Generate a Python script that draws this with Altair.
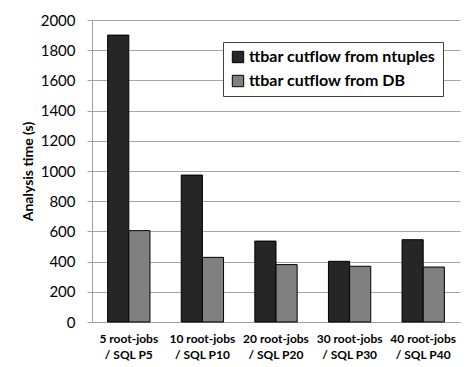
import altair as alt
import pandas as pd

categories = ["5 root-jobs\n/ SQL P5", "10 root-jobs\n/ SQL P10", "20 root-jobs\n/ SQL P20",
              "30 root-jobs\n/  SQL P30", "40 root-jobs\n/  SQL P40"]
series = ["ttbar cutflow from ntuples", "ttbar cutflow from DB"]
ntuples = [1900, 973, 536, 402, 545]
db = [605, 428, 380, 369, 364]
colors = ["#262626", "#808080"]

rows = []
for c, a, b in zip(categories, ntuples, db):
    rows.append({"cat": c, "series": series[0], "value": a})
    rows.append({"cat": c, "series": series[1], "value": b})
df = pd.DataFrame(rows)

chart = alt.Chart(df).mark_bar(stroke="black", strokeWidth=1).encode(
    x=alt.X("cat:N", sort=categories, title=None,
            scale=alt.Scale(paddingInner=0.425, paddingOuter=0.2125),
            axis=alt.Axis(labelAngle=0, labelExpr="split(datum.label, '\\n')",
                          labelFont="Lato", labelFontWeight="bold", labelFontSize=12,
                          labelLineHeight=16, labelPadding=11, ticks=False,
                          domainColor="#a0a0a0", labelColor="black", labelBaseline="top")),
    xOffset=alt.XOffset("series:N", sort=series),
    y=alt.Y("value:Q", title="Analysis time (s)",
            scale=alt.Scale(domain=[0, 2000], nice=False),
            axis=alt.Axis(values=list(range(0, 2001, 200)), format="d", grid=True, gridColor="#a6a6a6",
                          domainColor="#a0a0a0", tickColor="#a0a0a0", tickSize=5,
                          labelFont="Lato", labelFontSize=15, labelPadding=12, labelColor="black",
                          titleFont="Lato", titleFontSize=14, titleFontWeight="bold",
                          titleColor="black", titleX=-64, titleY=151, titleAngle=-90,
                          titleAlign="center", titleBaseline="middle")),
    color=alt.Color("series:N", sort=series,
                    scale=alt.Scale(domain=series, range=colors),
                    legend=alt.Legend(title=None, orient="none", legendX=131, legendY=22,
                                      symbolType="square", symbolSize=130,
                                      symbolStrokeColor="black", symbolStrokeWidth=1,
                                      labelFont="Lato", labelFontWeight="bold", labelFontSize=16,
                                      labelColor="black", labelOffset=3, labelLimit=400,
                                      strokeColor="#404040", fillColor="white",
                                      padding=7, rowPadding=8)),
).properties(
    width=368, height=302,
    autosize=alt.AutoSizeParams(type="none"),
    padding={"left": 84, "top": 12, "right": 6, "bottom": 40},
).configure_view(stroke=None)

chart.save("out.html", embed_options={"renderer": "svg", "actions": False})
